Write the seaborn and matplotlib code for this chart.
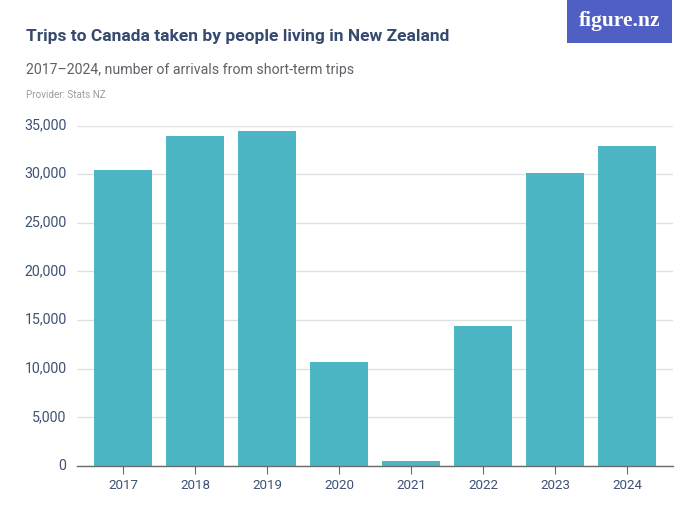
import matplotlib
matplotlib.use("Agg")
import matplotlib.pyplot as plt
from matplotlib.patches import Rectangle
from matplotlib.ticker import FuncFormatter
from matplotlib.transforms import ScaledTranslation
import pandas as pd
import seaborn as sns

years = ["2017", "2018", "2019", "2020", "2021", "2022", "2023", "2024"]
arrivals = [30420, 33900, 34400, 10640, 470, 14400, 30100, 32850]
y_ticks = [0, 5000, 10000, 15000, 20000, 25000, 30000, 35000]

TITLE = "Trips to Canada taken by people living in New Zealand"
SUBTITLE = "2017–2024, number of arrivals from short-term trips"
PROVIDER = "Provider: Stats NZ"
LOGO = "figure.nz"

sns.set_theme(style="white")
plt.rcParams["font.family"] = ["Roboto", "DejaVu Sans"]

W, H = 700, 525
fig = plt.figure(figsize=(7, 5.25), dpi=100, facecolor="white")
ax = fig.add_axes([77 / W, 1 - 466 / H, (673 - 77) / W, (466 - 125.5) / H])

df = pd.DataFrame({"year": years, "arrivals": arrivals})
sns.barplot(data=df, x="year", y="arrivals", color="#4DB6C5", saturation=1,
            width=0.806, linewidth=0, edgecolor="none", ax=ax, zorder=3)

ax.set_xlim(-0.639, 7.639)
ax.set_ylim(0, 35000)
ax.set_yticks(y_ticks)
ax.yaxis.set_major_formatter(FuncFormatter(lambda v, _: f"{int(v):,}"))
ax.set_xlabel("")
ax.set_ylabel("")
ax.grid(axis="y", color="#E0E1E4", linewidth=1.0, zorder=0)
ax.grid(axis="x", visible=False)
ax.set_axisbelow(True)

for s in ["top", "right", "left"]:
    ax.spines[s].set_visible(False)
ax.spines["bottom"].set_color("#6B6B6B")
ax.spines["bottom"].set_linewidth(1.0)
ax.spines["bottom"].set_zorder(5)
ax.tick_params(axis="x", length=6, width=0.8, color="#6B6B6B",
               labelsize=9.6, labelcolor="#3E5274", pad=3.5, bottom=True)
ax.tick_params(axis="y", length=0, labelsize=10.2, labelcolor="#3E5274", pad=7.5)

# The y tick labels sit slightly above their gridlines in the reference.
up = ScaledTranslation(0, 2 / 100, fig.dpi_scale_trans)
for label in ax.get_yticklabels():
    label.set_transform(label.get_transform() + up)

fig.text(26 / W, 1 - 37 / H, TITLE, fontsize=12.55, fontweight="bold",
         color="#36496E", va="center", ha="left")
fig.text(26 / W, 1 - 70 / H, SUBTITLE, fontsize=10.2,
         color="#5E6166", va="center", ha="left")
fig.text(26 / W, 1 - 95 / H, PROVIDER, fontsize=7.1,
         color="#9A9DA1", va="center", ha="left")

fig.add_artist(Rectangle((567 / W, 1 - 42.5 / H), 105 / W, 42.5 / H,
                         transform=fig.transFigure, facecolor="#4F5FC4",
                         edgecolor="none"))
fig.text(619.5 / W, 1 - 21 / H, LOGO, fontsize=15.5, fontweight="bold",
         family=["Liberation Serif", "DejaVu Serif"], color="white",
         va="center", ha="center")

fig.savefig("out.png", dpi=100, facecolor="white")
